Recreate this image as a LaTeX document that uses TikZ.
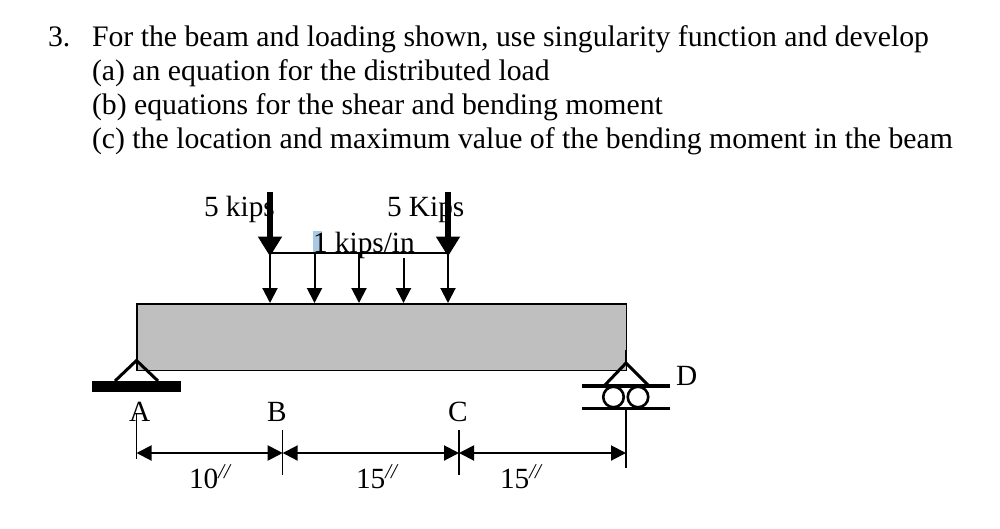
\documentclass[tikz,border=0pt]{standalone}
\usepackage{fontspec}
\setmainfont{Liberation Serif}
\usetikzlibrary{arrows.meta}
\definecolor{beamgray}{HTML}{BFBFBF}
\definecolor{hilite}{HTML}{A9C8E4}
\tikzset{
  txt/.style={inner sep=0pt,outer sep=0pt,anchor=base west,font=\fontsize{29.75}{34}\selectfont,text=black},
  lbl/.style={inner sep=0pt,outer sep=0pt,anchor=base west,font=\fontsize{29.3}{34}\selectfont,text=black},
  bigforce/.style={line width=6.5pt,-{Triangle[width=23pt,length=20pt]}},
  smallforce/.style={line width=2pt,-{Triangle[width=15pt,length=15pt]}},
  dimarrow/.style={line width=2pt,{Triangle[width=15pt,length=15pt]}-{Triangle[width=15pt,length=15pt]}},
  tick/.style={line width=1.5pt},
  supportline/.style={line width=3pt,line join=miter},
  railline/.style={line width=3.4pt}
}
\newcommand{\inchmark}[1]{#1\raisebox{9.5pt}{\fontsize{21}{21}\selectfont\itshape //}}
\begin{document}
\begin{tikzpicture}[x=1pt,y=-1pt]
\useasboundingbox (0,0) rectangle (1000,528);
% problem text
\node[txt] (n3) at (48,46) {3.};
\node[txt] (l1) at (92,46) {For the beam and loading shown, use singularity function and develop};
\node[txt] (l2) at (92,80) {(a) an equation for the distributed load};
\node[txt] (l3) at (92,114) {(b) equations for the shear and bending moment};
\node[txt] (l4) at (92,148) {(c) the location and maximum value of the bending moment in the beam};
% beam
\node[draw=black,line width=1.5pt,fill=beamgray,minimum width=489.5pt,minimum height=66.5pt,inner sep=0pt,anchor=north west] (beam) at (136,303) {};
% labels of load
\fill[hilite] (313,231) rectangle (322,252);
\node[lbl] (kL) at (204,216) {5 kips};
\node[lbl] (kR) at (387,216) {5 Kips};
\node[lbl] (q) at (313,252) {1 kips/in};
% coordinates
\coordinate (t1) at (270,192);
\coordinate (t2) at (448,192);
\coordinate (h1) at (270,256.5);
\coordinate (h2) at (448,256.5);
\coordinate (q1) at (270,253);
\coordinate (q2) at (314.5,253);
\coordinate (q3) at (359,253);
\coordinate (q4) at (403.5,258);
\coordinate (q5) at (448,253);
\coordinate (b1) at (270,303);
\coordinate (b2) at (314.5,303);
\coordinate (b3) at (359,303);
\coordinate (b4) at (403.5,303);
\coordinate (b5) at (448,303);
\draw[line width=2pt] (q1) -- (q5);
\foreach \i in {1,...,5} \draw[smallforce] (q\i) -- (b\i);
\draw[bigforce] (t1) -- (h1);
\draw[bigforce] (t2) -- (h2);
% support A
\coordinate (pinA) at (136.5,360.5);
\coordinate (fA1) at (115,381);
\coordinate (fA2) at (158,381);
\draw[supportline] (fA1) -- (pinA) -- (fA2);
\fill[black] (92,381) rectangle (181,392);
% support D
\coordinate (pinD) at (626,363);
\coordinate (fD1) at (605,385);
\coordinate (fD2) at (648,385);
\draw[line width=2pt] (626,350) -- (pinD);
\draw[supportline] (fD1) -- (pinD) -- (fD2);
\coordinate (r1a) at (582,386);\coordinate (r1b) at (670,386);
\coordinate (r2a) at (582,408.5);\coordinate (r2b) at (670,408.5);
\draw[railline] (r1a) -- (r1b);
\draw[railline] (r2a) -- (r2b);
\node[circle,draw=black,line width=2.6pt,minimum size=20.5pt,inner sep=0pt] (w1) at (613.5,397) {};
\node[circle,draw=black,line width=2.6pt,minimum size=20.5pt,inner sep=0pt] (w2) at (638,397) {};
% letters
\node[lbl] (A) at (129,421) {A};
\node[lbl] (B) at (267,421) {B};
\node[lbl] (C) at (448,421) {C};
\node[lbl] (D) at (676,385) {D};
% dimension ticks
\coordinate (dA1) at (136.5,413);\coordinate (dA2) at (136.5,459);
\coordinate (dB1) at (282.7,430);\coordinate (dB2) at (282.7,475);
\coordinate (dC1) at (459,430);\coordinate (dC2) at (459,475);
\coordinate (dD1) at (626,408);\coordinate (dD2) at (626,468);
\draw[tick] (dA1) -- (dA2);
\draw[tick] (dB1) -- (dB2);
\draw[tick] (dC1) -- (dC2);
\draw[line width=2pt] (dD1) -- (dD2);
\coordinate (a) at (136.5,453);\coordinate (b) at (282.7,453);\coordinate (c) at (459,453);\coordinate (d) at (626,453);
\draw[dimarrow] (a) -- (b);
\draw[dimarrow] (b) -- (c);
\draw[dimarrow] (c) -- (d);
\node[lbl] (d1) at (189,488) {\inchmark{10}};
\node[lbl] (d2) at (356,488) {\inchmark{15}};
\node[lbl] (d3) at (500,488) {\inchmark{15}};
\end{tikzpicture}
\end{document}
